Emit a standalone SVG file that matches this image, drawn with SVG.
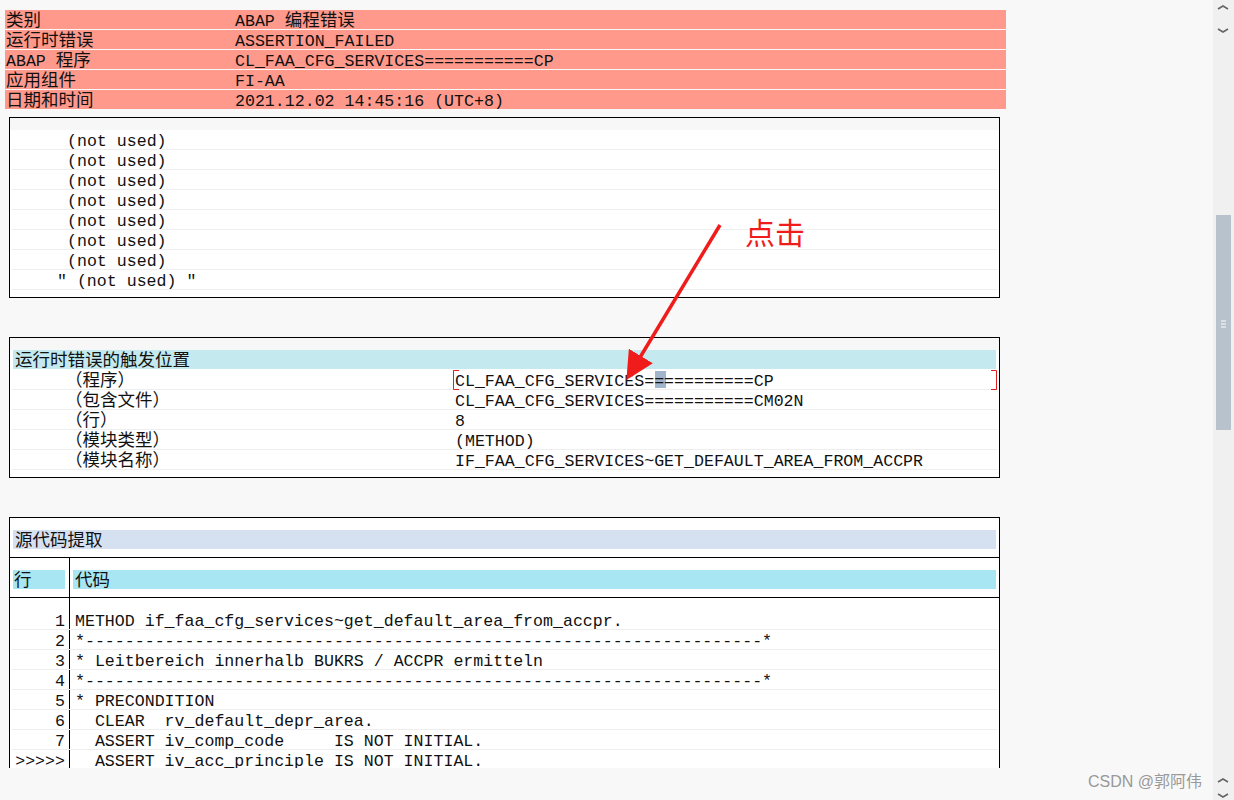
<svg xmlns="http://www.w3.org/2000/svg" width="1234" height="800" viewBox="0 0 1234 800">
<style>
text{font-family:"Liberation Mono","Noto Sans CJK SC",monospace;font-size:16.6px;fill:#111}
.sep{stroke:#eee;stroke-width:1}
.box{fill:#fff;stroke:#000;stroke-width:1}
.red{fill:#ff998b}
.cjk{font-size:17.5px}
</style>
<defs>
<marker id="ah" markerWidth="8" markerHeight="8" refX="6" refY="4" orient="auto" markerUnits="strokeWidth"><path d="M0,0 L8,4 L0,8 z" fill="#f01c1c"/></marker>
</defs>
<rect width="1234" height="800" fill="#f8f8f8"/>
<g id="header">
<rect class="red" x="5" y="10" width="1001" height="19"/>
<rect class="red" x="5" y="30" width="1001" height="19"/>
<rect class="red" x="5" y="50" width="1001" height="19"/>
<rect class="red" x="5" y="70" width="1001" height="19"/>
<rect class="red" x="5" y="90" width="1001" height="19"/>
<text class="cjk" x="6" y="26">类别</text><text x="235" y="26">ABAP <tspan class="cjk">编程错误</tspan></text>
<text class="cjk" x="6" y="46">运行时错误</text><text x="235" y="46">ASSERTION_FAILED</text>
<text x="6" y="66">ABAP <tspan class="cjk">程序</tspan></text><text x="235" y="66">CL_FAA_CFG_SERVICES===========CP</text>
<text class="cjk" x="6" y="86">应用组件</text><text x="235" y="86">FI-AA</text>
<text class="cjk" x="6" y="106">日期和时间</text><text x="235" y="106">2021.12.02 14:45:16 (UTC+8)</text>
</g>
<g id="box1">
<rect class="box" x="9.5" y="117.5" width="990" height="180"/>
<rect fill="#f7f7f7" x="10" y="118" width="989" height="12"/>
<g class="sep"><line x1="12" y1="149.5" x2="997" y2="149.5"/><line x1="12" y1="169.5" x2="997" y2="169.5"/><line x1="12" y1="189.5" x2="997" y2="189.5"/><line x1="12" y1="209.5" x2="997" y2="209.5"/><line x1="12" y1="229.5" x2="997" y2="229.5"/><line x1="12" y1="249.5" x2="997" y2="249.5"/><line x1="12" y1="269.5" x2="997" y2="269.5"/><line x1="12" y1="289.5" x2="997" y2="289.5"/></g>
<text x="67" y="146">(not used)</text>
<text x="67" y="166">(not used)</text>
<text x="67" y="186">(not used)</text>
<text x="67" y="206">(not used)</text>
<text x="67" y="226">(not used)</text>
<text x="67" y="246">(not used)</text>
<text x="67" y="266">(not used)</text>
<text x="57" y="286">" (not used) "</text>
</g>
<g id="box2">
<rect class="box" x="9.5" y="337.5" width="990" height="140"/>
<rect fill="#f7f7f7" x="10" y="338" width="989" height="12"/>
<rect fill="#c4e9ee" x="13" y="350" width="983" height="19"/>
<text class="cjk" x="15" y="366">运行时错误的触发位置</text>
<g class="sep"><line x1="12" y1="389.5" x2="997" y2="389.5"/><line x1="12" y1="409.5" x2="997" y2="409.5"/><line x1="12" y1="429.5" x2="997" y2="429.5"/><line x1="12" y1="449.5" x2="997" y2="449.5"/><line x1="12" y1="469.5" x2="997" y2="469.5"/></g>
<rect fill="#a0b4cc" x="655" y="371" width="11" height="17"/>
<path d="M459,370.5 H453.5 V389.5 H459 M991,370.5 H996.5 V389.5 H991 M453.5,370.5 V376 M996.5,384 V389.5" fill="none" stroke="#e02020" stroke-width="1"/>
<text class="cjk" x="65" y="386">（程序）</text><text x="455" y="386">CL_FAA_CFG_SERVICES===========CP</text>
<text class="cjk" x="65" y="406">（包含文件）</text><text x="455" y="406">CL_FAA_CFG_SERVICES===========CM02N</text>
<text class="cjk" x="65" y="426">（行）</text><text x="455" y="426">8</text>
<text class="cjk" x="65" y="446">（模块类型）</text><text x="455" y="446">(METHOD)</text>
<text class="cjk" x="65" y="466">（模块名称）</text><text x="455" y="466">IF_FAA_CFG_SERVICES~GET_DEFAULT_AREA_FROM_ACCPR</text>
</g>
<g id="box3">
<rect class="box" x="9.5" y="517.5" width="990" height="300"/>
<rect fill="#d5e0f1" x="13" y="530" width="983" height="19"/>
<text class="cjk" x="15" y="546">源代码提取</text>
<line x1="10" y1="557.5" x2="999" y2="557.5" stroke="#000"/>
<line x1="69.5" y1="557.5" x2="69.5" y2="768" stroke="#000"/>
<rect fill="#a8e6f4" x="13" y="570" width="52" height="19"/>
<rect fill="#a8e6f4" x="73" y="570" width="923" height="19"/>
<text class="cjk" x="14" y="586">行</text><text class="cjk" x="75" y="586">代码</text>
<line x1="10" y1="597.5" x2="999" y2="597.5" stroke="#000"/>
<g class="sep"><line x1="12" y1="629.5" x2="997" y2="629.5"/><line x1="12" y1="649.5" x2="997" y2="649.5"/><line x1="12" y1="669.5" x2="997" y2="669.5"/><line x1="12" y1="689.5" x2="997" y2="689.5"/><line x1="12" y1="709.5" x2="997" y2="709.5"/><line x1="12" y1="729.5" x2="997" y2="729.5"/><line x1="12" y1="749.5" x2="997" y2="749.5"/></g>
<g text-anchor="end">
<text x="65" y="626">1</text><text x="65" y="646">2</text><text x="65" y="666">3</text><text x="65" y="686">4</text><text x="65" y="706">5</text><text x="65" y="726">6</text><text x="65" y="746">7</text><text x="65" y="766">&gt;&gt;&gt;&gt;&gt;</text>
</g>
<text x="75" y="626" xml:space="preserve">METHOD if_faa_cfg_services~get_default_area_from_accpr.</text>
<text x="75" y="646" xml:space="preserve">*--------------------------------------------------------------------*</text>
<text x="75" y="666" xml:space="preserve">* Leitbereich innerhalb BUKRS / ACCPR ermitteln</text>
<text x="75" y="686" xml:space="preserve">*--------------------------------------------------------------------*</text>
<text x="75" y="706" xml:space="preserve">* PRECONDITION</text>
<text x="75" y="726" xml:space="preserve">  CLEAR  rv_default_depr_area.</text>
<text x="75" y="746" xml:space="preserve">  ASSERT iv_comp_code     IS NOT INITIAL.</text>
<text x="75" y="766" xml:space="preserve">  ASSERT iv_acc_principle IS NOT INITIAL.</text>
</g>
<rect x="0" y="768" width="1213" height="32" fill="#f8f8f8"/>
<g id="scrollbar">
<rect x="1213" y="0" width="21" height="800" fill="#f0f0f0"/>
<rect x="1216" y="215" width="15" height="215" fill="#b8c2cc"/>
<path d="M1221,321 h5 M1221,324 h5 M1221,327 h5" stroke="#fff" stroke-width="1"/>
<path d="M1218,9 l5,-3 l5,3 M1218,29 l5,3 l5,-3 M1218,782 l5,-3 l5,3 M1218,794 l5,3 l5,-3" fill="none" stroke="#666" stroke-width="1.6"/>
</g>
<g id="annotation">
<line x1="720" y1="225" x2="630" y2="374" stroke="#f01c1c" stroke-width="3.5" marker-end="url(#ah)"/>
<text x="745" y="244" style="fill:#f01c1c;font-size:30px;font-family:'Noto Sans CJK SC',sans-serif">点击</text>
</g>
<text x="1088" y="787" style="fill:#999;font-size:16px;font-family:'Liberation Sans','Noto Sans CJK SC',sans-serif">CSDN @郭阿伟</text>
</svg>
